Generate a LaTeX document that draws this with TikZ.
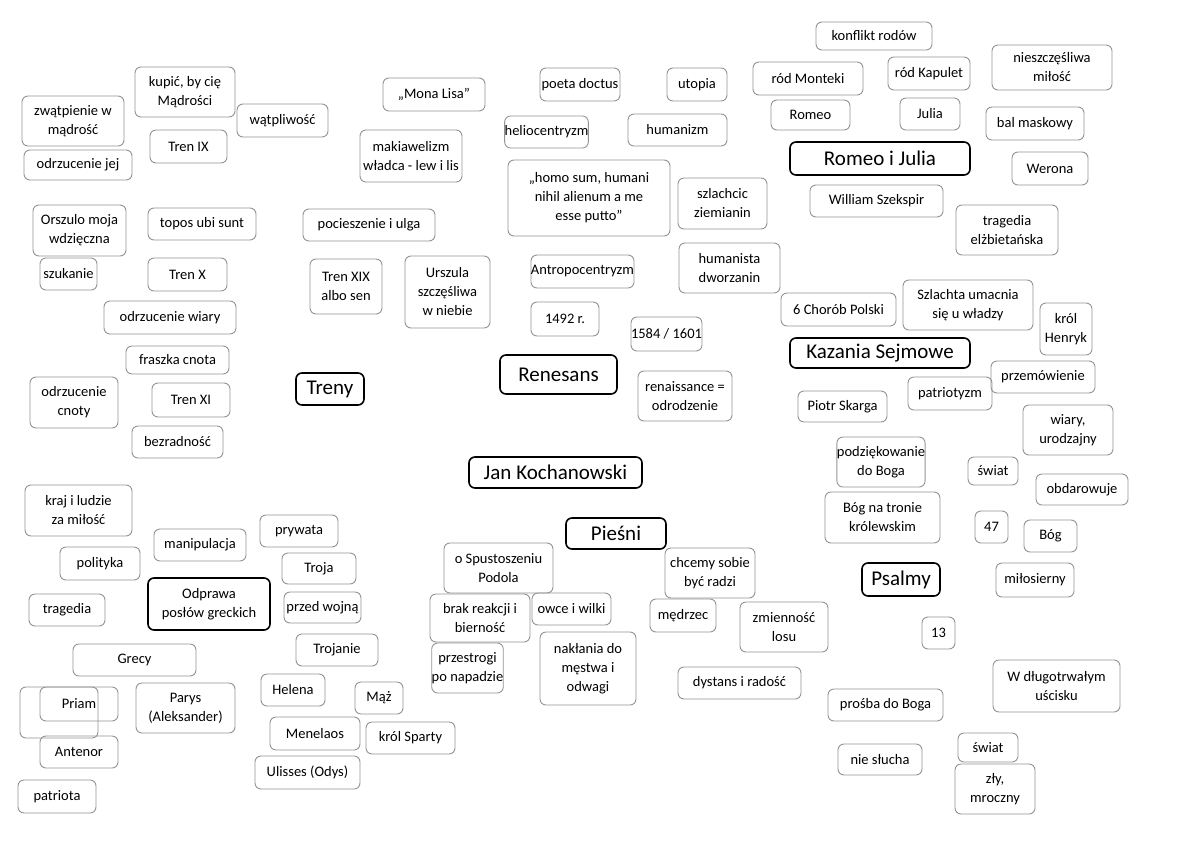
\documentclass[tikz,border=0pt]{standalone}
\usepackage{fontspec}
\setmainfont{Carlito}
\tikzset{box/.style={draw=gray!85,rounded corners=6pt,line width=0.9pt,inner sep=0pt,align=center,font=\fontsize{14.5}{19}\selectfont},
 big/.style={box,draw=black,line width=1.6pt,font=\fontsize{21}{24}\selectfont},
 mid/.style={box,draw=black,line width=1.6pt}}
\newcommand\bx[7][box]{\node[#1,minimum width={#5pt-#3pt},minimum height={#6pt-#4pt}] (#2) at ({(#3+#5)/2},{(#4+#6)/2}) {#7};}
\begin{document}
\begin{tikzpicture}[x=1pt,y=-1pt]
\useasboundingbox (0,0) rectangle (1200,849);
% right
\bx{a1}{816}{22}{932}{50}{konflikt rodów}
\bx{a2}{753}{62}{863}{95}{ród Monteki}
\bx{a3}{888}{57}{970}{90}{ród Kapulet}
\bx{a4}{992}{45}{1112}{90}{nieszczęśliwa\\miłość}
\bx{a5}{771}{100}{850}{130}{Romeo}
\bx{a6}{900}{98}{960}{130}{Julia}
\bx{a7}{986}{107}{1084}{140}{bal maskowy}
\bx[big]{a8}{790}{142}{970}{175}{Romeo i Julia}
\bx{a9}{1012}{152}{1088}{185}{Werona}
\bx{a10}{810}{185}{943}{217}{William Szekspir}
\bx{a11}{956}{205}{1058}{255}{tragedia\\elżbietańska}
\bx{a12}{781}{293}{896}{326}{6 Chorób Polski}
\bx{a13}{903}{280}{1033}{330}{Szlachta umacnia\\się u władzy}
\bx{a14}{1040}{303}{1092}{355}{król\\Henryk}
\bx[big]{a15}{790}{338}{970}{368}{Kazania Sejmowe}
\bx{a16}{991}{361}{1095}{393}{przemówienie}
\bx{a17}{908}{377}{992}{410}{patriotyzm}
\bx{a18}{798}{391}{887}{422}{Piotr Skarga}
\bx{a19}{1023}{405}{1113}{455}{wiary,\\urodzajny}
\bx{a20}{837}{437}{925}{487}{podziękowanie\\do Boga}
\bx{a21}{968}{457}{1018}{485}{świat}
\bx{a22}{1036}{474}{1128}{505}{obdarowuje}
\bx{a23}{825}{492}{940}{543}{Bóg na tronie\\królewskim}
\bx{a24}{975}{511}{1008}{543}{47}
\bx{a25}{1024}{520}{1077}{552}{Bóg}
\bx[big]{a26}{862}{563}{940}{596}{Psalmy}
\bx{a27}{996}{563}{1074}{597}{miłosierny}
\bx{a28}{922}{617}{955}{649}{13}
\bx{a29}{993}{660}{1120}{712}{W długotrwałym\\uścisku}
\bx{a30}{828}{689}{943}{721}{prośba do Boga}
\bx{a31}{958}{733}{1018}{762}{świat}
\bx{a32}{838}{744}{922}{775}{nie słucha}
\bx{a33}{955}{764}{1035}{814}{zły,\\mroczny}
% middle
\bx{b1}{383}{78}{485}{111}{„Mona Lisa”}
\bx{b2}{540}{68}{620}{101}{poeta doctus}
\bx{b3}{667}{68}{727}{101}{utopia}
\bx{b4}{360}{130}{462}{182}{makiawelizm\\władca - lew i lis}
\bx{b5}{505}{116}{588}{148}{heliocentryzm}
\bx{b6}{628}{114}{727}{146}{humanizm}
\bx{b7}{508}{160}{670}{236}{„homo sum, humani\\nihil alienum a me\\esse putto”}
\bx{b8}{678}{178}{767}{229}{szlachcic\\ziemianin}
\bx{b9}{679}{243}{780}{293}{humanista\\dworzanin}
\bx{b10}{532}{255}{633}{288}{Antropocentryzm}
\bx{b11}{531}{302}{599}{336}{1492 r.}
\bx{b12}{633}{317}{700}{351}{1584 / 1601}
\bx[big]{b13}{500}{355}{617}{394}{Renesans}
\bx{b14}{638}{371}{732}{421}{renaissance =\\odrodzenie}
\bx{b15}{303}{209}{435}{241}{pocieszenie i ulga}
\bx{b16}{310}{259}{382}{314}{Tren XIX\\albo sen}
\bx{b17}{405}{256}{490}{328}{Urszula\\szczęśliwa\\w niebie}
\bx[big]{b18}{469}{457}{642}{488}{Jan Kochanowski}
\bx[big]{b19}{566}{518}{666}{549}{Pieśni}
% left
\bx{c1}{135}{67}{235}{117}{kupić, by cię\\Mądrości}
\bx{c2}{22}{96}{124}{146}{zwątpienie w\\mądrość}
\bx{c3}{237}{104}{328}{137}{wątpliwość}
\bx{c4}{150}{130}{227}{163}{Tren IX}
\bx{c5}{24}{150}{132}{180}{odrzucenie jej}
\bx{c6}{33}{205}{126}{256}{Orszulo moja\\wdzięczna}
\bx{c7}{148}{208}{256}{240}{topos ubi sunt}
\bx{c8}{40}{258}{97}{290}{szukanie}
\bx{c9}{148}{258}{227}{291}{Tren X}
\bx{c10}{104}{301}{236}{334}{odrzucenie wiary}
\bx{c11}{126}{346}{229}{374}{fraszka cnota}
\bx[big]{c12}{296}{373}{364}{405}{Treny}
\bx{c13}{30}{377}{118}{428}{odrzucenie\\cnoty}
\bx{c14}{152}{383}{230}{417}{Tren XI}
\bx{c15}{132}{426}{223}{458}{bezradność}
\bx{c16}{25}{485}{132}{536}{kraj i ludzie\\za miłość}
\bx{c17}{154}{529}{246}{561}{manipulacja}
\bx{c18}{260}{515}{338}{547}{prywata}
\bx{c19}{60}{547}{140}{580}{polityka}
\bx{c20}{282}{553}{356}{584}{Troja}
\bx[mid]{c21}{148}{578}{270}{630}{Odprawa\\posłów greckich}
\bx{c22}{29}{594}{105}{626}{tragedia}
\bx{c23}{284}{592}{361}{623}{przed wojną}
\bx{c24}{73}{644}{196}{676}{Grecy}
\bx{c25}{296}{634}{378}{666}{Trojanie}
\bx{c26}{261}{674}{325}{706}{Helena}
\bx{c27}{355}{682}{403}{714}{Mąż}
\bx{c28}{40}{687}{118}{721}{Priam}
\bx{c29}{20}{687}{98}{738}{}
\bx{c30}{136}{683}{235}{733}{Parys\\(Aleksander)}
\bx{c31}{270}{717}{360}{750}{Menelaos}
\bx{c32}{366}{722}{455}{754}{król Sparty}
\bx{c33}{40}{736}{118}{768}{Antenor}
\bx{c34}{255}{756}{360}{789}{Ulisses (Odys)}
\bx{c35}{18}{780}{96}{813}{patriota}
% bottom centre
\bx{d1}{444}{543}{553}{593}{o Spustoszeniu\\Podola}
\bx{d2}{665}{548}{755}{598}{chcemy sobie\\być radzi}
\bx{d3}{430}{594}{530}{642}{brak reakcji i\\bierność}
\bx{d4}{532}{593}{611}{625}{owce i wilki}
\bx{d5}{650}{599}{716}{632}{mędrzec}
\bx{d6}{740}{602}{828}{652}{zmienność\\losu}
\bx{d7}{432}{643}{503}{693}{przestrogi\\po napadzie}
\bx{d8}{540}{632}{636}{705}{nakłania do\\męstwa i\\odwagi}
\bx{d9}{678}{667}{801}{699}{dystans i radość}
\end{tikzpicture}
\end{document}
